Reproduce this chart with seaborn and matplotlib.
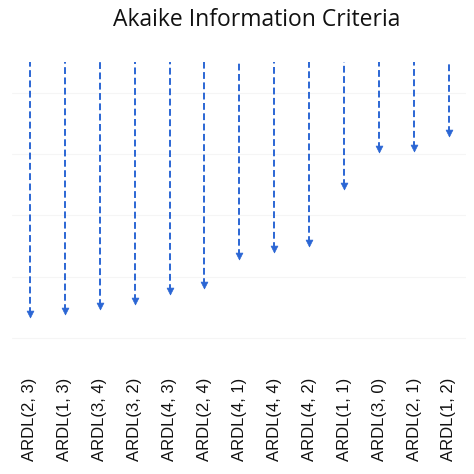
import matplotlib
matplotlib.use('AGG')
import matplotlib.pyplot as plt
import seaborn as sns
import pandas as pd

# ARDL models ordered by AIC (lowest first)
models = ['ARDL(2, 3)', 'ARDL(1, 3)', 'ARDL(3, 4)', 'ARDL(3, 2)', 'ARDL(4, 3)',
          'ARDL(2, 4)', 'ARDL(4, 1)', 'ARDL(4, 4)', 'ARDL(4, 2)', 'ARDL(1, 1)',
          'ARDL(3, 0)', 'ARDL(2, 1)', 'ARDL(1, 2)']
aic = [-6.860, -6.855, -6.848, -6.840, -6.824, -6.813, -6.766,
       -6.755, -6.745, -6.652, -6.592, -6.590, -6.565]
aic_top = -6.45

df = pd.DataFrame({'model': models, 'aic': aic})

sns.set_style('white')
plt.rcParams['font.family'] = ['Liberation Sans', 'DejaVu Sans']

fig = plt.figure(figsize=(4.74, 4.74), dpi=100)
ax = fig.add_axes([0.026, 0.209, 0.958, 0.686])

color = '#2b66d4'
ax.vlines(range(len(models)), df['aic'], aic_top, colors=color,
          linestyles=(0, (3.5, 1.8)), linewidth=1.4, zorder=2)
sns.scatterplot(data=df, x='model', y='aic', marker='v', s=24, color=color,
                edgecolor=color, linewidth=0.5, ax=ax, zorder=3)

for g in [-6.5, -6.6, -6.7, -6.8, -6.9]:
    ax.axhline(g, color='#f5f5f5', linewidth=0.8, zorder=0)

ax.set_xlim(-0.5, len(models) - 0.5)
ax.set_ylim(-6.96, -6.43)
ax.set_yticks([])
ax.set_xlabel('')
ax.set_ylabel('')
ax.tick_params(axis='x', length=0, pad=2, labelsize=12, labelcolor='#111111')
plt.xticks(rotation=90)
for s in ax.spines.values():
    s.set_visible(False)

fig.suptitle('Akaike Information Criteria', x=0.542, y=0.983, fontsize=16.5,
             fontfamily=['Open Sans', 'DejaVu Sans'], color='#111111')

plt.savefig('out.png', dpi=100)
